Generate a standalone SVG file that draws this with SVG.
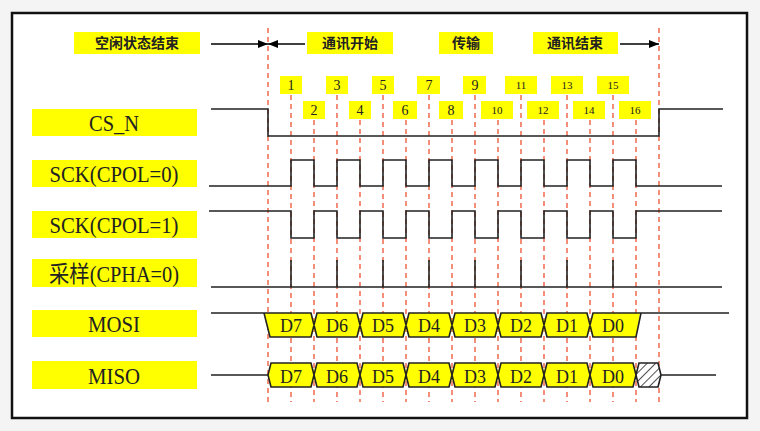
<svg xmlns="http://www.w3.org/2000/svg" width="760" height="431" viewBox="0 0 760 431">
<style>
.y{fill:#ffff00}
.t{font-family:"Liberation Serif","Noto Sans CJK SC",serif;fill:#222;text-anchor:middle}
.big{font-size:23px}
.cn{font-size:14px;font-weight:bold;font-family:"Noto Sans CJK SC",sans-serif}
.num{font-size:14px}
.sm{font-size:11px}
.d{font-size:19px}
.w{fill:none;stroke:#222;stroke-width:1.6}
.dash{stroke:#f06040;stroke-width:1.4;stroke-dasharray:5,4}
</style>
<defs>
<marker id="ah" markerWidth="10" markerHeight="8" refX="10" refY="4" orient="auto" markerUnits="userSpaceOnUse"><path d="M0,0 L10,4 L0,8 Z" fill="#000"/></marker>
<pattern id="hatch" width="6" height="6" patternUnits="userSpaceOnUse" patternTransform="rotate(45)"><rect width="6" height="6" fill="#fff"/><line x1="0" y1="0" x2="0" y2="6" stroke="#222" stroke-width="1.6"/></pattern>
</defs>
<rect x="0" y="0" width="760" height="431" fill="#f4f4f4"/>
<rect x="12" y="13" width="735" height="405" fill="#fff" stroke="#111" stroke-width="2.5"/>

<g id="labels-top">
<g id="idle"><rect class="y" x="74" y="32" width="126" height="22"/><text class="t cn" x="137" y="48">空闲状态结束</text></g>
<g id="start"><rect class="y" x="307" y="32" width="86" height="22"/><text class="t cn" x="350" y="48">通讯开始</text></g>
<g id="trans"><rect class="y" x="439" y="32" width="54" height="22"/><text class="t cn" x="466" y="48">传输</text></g>
<g id="end"><rect class="y" x="533" y="32" width="85" height="22"/><text class="t cn" x="575" y="48">通讯结束</text></g>
</g>

<g id="connectors">
<line x1="211" y1="44" x2="268" y2="44" stroke="#000" stroke-width="1.5" marker-end="url(#ah)"/>
<line x1="305" y1="44" x2="268" y2="44" stroke="#000" stroke-width="1.5" marker-end="url(#ah)"/>
<line x1="620" y1="44" x2="659" y2="44" stroke="#000" stroke-width="1.5" marker-end="url(#ah)"/>
</g>

<g id="dashes">
<line class="dash" x1="268" y1="28" x2="268" y2="405"/>
<line class="dash" x1="659" y1="28" x2="659" y2="405"/>
<line class="dash" x1="291" y1="95" x2="291" y2="402"/>
<line class="dash" x1="314" y1="120" x2="314" y2="402"/>
<line class="dash" x1="337" y1="95" x2="337" y2="402"/>
<line class="dash" x1="360" y1="120" x2="360" y2="402"/>
<line class="dash" x1="383" y1="95" x2="383" y2="402"/>
<line class="dash" x1="406" y1="120" x2="406" y2="402"/>
<line class="dash" x1="429" y1="95" x2="429" y2="402"/>
<line class="dash" x1="452" y1="120" x2="452" y2="402"/>
<line class="dash" x1="475" y1="95" x2="475" y2="402"/>
<line class="dash" x1="498" y1="120" x2="498" y2="402"/>
<line class="dash" x1="521" y1="95" x2="521" y2="402"/>
<line class="dash" x1="544" y1="120" x2="544" y2="402"/>
<line class="dash" x1="567" y1="95" x2="567" y2="402"/>
<line class="dash" x1="590" y1="120" x2="590" y2="402"/>
<line class="dash" x1="613" y1="95" x2="613" y2="402"/>
<line class="dash" x1="636" y1="120" x2="636" y2="402"/>
</g>

<g id="numbers">
<rect class="y" x="280" y="76" width="22" height="18"/><text class="t num" x="291" y="90">1</text>
<rect class="y" x="303" y="101" width="22" height="18"/><text class="t num" x="314" y="115">2</text>
<rect class="y" x="326" y="76" width="22" height="18"/><text class="t num" x="337" y="90">3</text>
<rect class="y" x="349" y="101" width="22" height="18"/><text class="t num" x="360" y="115">4</text>
<rect class="y" x="372" y="76" width="22" height="18"/><text class="t num" x="383" y="90">5</text>
<rect class="y" x="393" y="101" width="24" height="18"/><text class="t num" x="405" y="115">6</text>
<rect class="y" x="417" y="76" width="23" height="18"/><text class="t num" x="429" y="90">7</text>
<rect class="y" x="439" y="101" width="24" height="18"/><text class="t num" x="451" y="115">8</text>
<rect class="y" x="463" y="76" width="23" height="18"/><text class="t num" x="475" y="90">9</text>
<rect class="y" x="481" y="101" width="32" height="18"/><text class="t sm" x="497" y="114">10</text>
<rect class="y" x="505" y="76" width="32" height="18"/><text class="t sm" x="521" y="89">11</text>
<rect class="y" x="527" y="101" width="32" height="18"/><text class="t sm" x="543" y="114">12</text>
<rect class="y" x="551" y="76" width="32" height="18"/><text class="t sm" x="567" y="89">13</text>
<rect class="y" x="573" y="101" width="32" height="18"/><text class="t sm" x="589" y="114">14</text>
<rect class="y" x="597" y="76" width="32" height="18"/><text class="t sm" x="613" y="89">15</text>
<rect class="y" x="619" y="101" width="32" height="18"/><text class="t sm" x="635" y="114">16</text>
</g>

<g id="sig-labels">
<g id="lbl-cs"><rect class="y" x="32" y="109" width="165" height="27"/><text class="t big" x="114" y="131" textLength="50" lengthAdjust="spacingAndGlyphs">CS_N</text></g>
<g id="lbl-sck0"><rect class="y" x="32" y="160" width="165" height="27"/><text class="t big" x="114" y="182" textLength="129" lengthAdjust="spacingAndGlyphs">SCK(CPOL=0)</text></g>
<g id="lbl-sck1"><rect class="y" x="32" y="211" width="165" height="27"/><text class="t big" x="114" y="233" textLength="129" lengthAdjust="spacingAndGlyphs">SCK(CPOL=1)</text></g>
<g id="lbl-samp"><rect class="y" x="32" y="259" width="165" height="28"/><text class="t big" x="114" y="282" textLength="130" lengthAdjust="spacingAndGlyphs">采样(CPHA=0)</text></g>
<g id="lbl-mosi"><rect class="y" x="32" y="310" width="165" height="27"/><text class="t big" x="114" y="332" textLength="52" lengthAdjust="spacingAndGlyphs">MOSI</text></g>
<g id="lbl-miso"><rect class="y" x="32" y="361" width="165" height="28"/><text class="t big" x="114" y="384" textLength="52" lengthAdjust="spacingAndGlyphs">MISO</text></g>
</g>

<g id="waves">
<path class="w" d="M211,109 H268 V136 H659 V109 H723"/>
<path class="w" d="M209,186 H291 V160 H314 V186 H337 V160 H360 V186 H383 V160 H406 V186 H429 V160 H452 V186 H475 V160 H498 V186 H521 V160 H544 V186 H567 V160 H590 V186 H613 V160 H636 V186 H722"/>
<path class="w" d="M209,211 H291 V238 H314 V211 H337 V238 H360 V211 H383 V238 H406 V211 H429 V238 H452 V211 H475 V238 H498 V211 H521 V238 H544 V211 H567 V238 H590 V211 H613 V238 H636 V211 H722"/>
<path class="w" d="M211,287 H722 M291,287 V260 M337,287 V260 M383,287 V260 M429,287 V260 M475,287 V260 M521,287 V260 M567,287 V260 M613,287 V260"/>
</g>

<g id="mosi">
<path class="y" d="M264,313 H311 L314,321 L317,313 H357 L360,321 L363,313 H403 L406,321 L409,313 H449 L452,321 L455,313 H495 L498,321 L501,313 H541 L544,321 L547,313 H587 L590,321 L593,313 H640 L636,337 H593 L590,329 L587,337 H547 L544,329 L541,337 H501 L498,329 L495,337 H455 L452,329 L449,337 H409 L406,329 L403,337 H363 L360,329 L357,337 H317 L314,329 L311,337 H270 Z"/>
<path class="w" d="M211,313 H264 L270,337 H311 L317,313 H357 L363,337 H403 L409,313 H449 L455,337 H495 L501,313 H541 L547,337 H587 L593,313 H636 L640,313 H729 M264,313 H311 L317,337 H357 L363,313 H403 L409,337 H449 L455,313 H495 L501,337 H541 L547,313 H587 L593,337 H636 L641,313"/>
<g class="t d"><text x="291" y="332" textLength="22" lengthAdjust="spacingAndGlyphs">D7</text><text x="337" y="332" textLength="22" lengthAdjust="spacingAndGlyphs">D6</text><text x="383" y="332" textLength="22" lengthAdjust="spacingAndGlyphs">D5</text><text x="429" y="332" textLength="22" lengthAdjust="spacingAndGlyphs">D4</text><text x="475" y="332" textLength="22" lengthAdjust="spacingAndGlyphs">D3</text><text x="521" y="332" textLength="22" lengthAdjust="spacingAndGlyphs">D2</text><text x="567" y="332" textLength="22" lengthAdjust="spacingAndGlyphs">D1</text><text x="613" y="332" textLength="22" lengthAdjust="spacingAndGlyphs">D0</text></g>
</g>

<g id="miso">
<path class="y" d="M268,375 L271,363 H311 L314,371 L317,363 H357 L360,371 L363,363 H403 L406,371 L409,363 H449 L452,371 L455,363 H495 L498,371 L501,363 H541 L544,371 L547,363 H587 L590,371 L593,363 H633 L636,371 L633,387 H593 L590,379 L587,387 H547 L544,379 L541,387 H501 L498,379 L495,387 H455 L452,379 L449,387 H409 L406,379 L403,387 H363 L360,379 L357,387 H317 L314,379 L311,387 H271 Z"/>
<path d="M636,375 L639,363 H658 L661,375 L658,387 H639 Z" fill="url(#hatch)"/>
<path class="w" d="M211,375 H268 L271,363 H311 L317,387 H357 L363,363 H403 L409,387 H449 L455,363 H495 L501,387 H541 L547,363 H587 L593,387 H633 L639,363 H658 L661,375 L658,387 H639 L633,363 H593 L587,387 H547 L541,363 H501 L495,387 H455 L449,363 H409 L403,387 H363 L357,363 H317 L311,387 H271 L268,375 M661,375 H716"/>
<g class="t d"><text x="291" y="383" textLength="22" lengthAdjust="spacingAndGlyphs">D7</text><text x="337" y="383" textLength="22" lengthAdjust="spacingAndGlyphs">D6</text><text x="383" y="383" textLength="22" lengthAdjust="spacingAndGlyphs">D5</text><text x="429" y="383" textLength="22" lengthAdjust="spacingAndGlyphs">D4</text><text x="475" y="383" textLength="22" lengthAdjust="spacingAndGlyphs">D3</text><text x="521" y="383" textLength="22" lengthAdjust="spacingAndGlyphs">D2</text><text x="567" y="383" textLength="22" lengthAdjust="spacingAndGlyphs">D1</text><text x="613" y="383" textLength="22" lengthAdjust="spacingAndGlyphs">D0</text></g>
</g>
</svg>
